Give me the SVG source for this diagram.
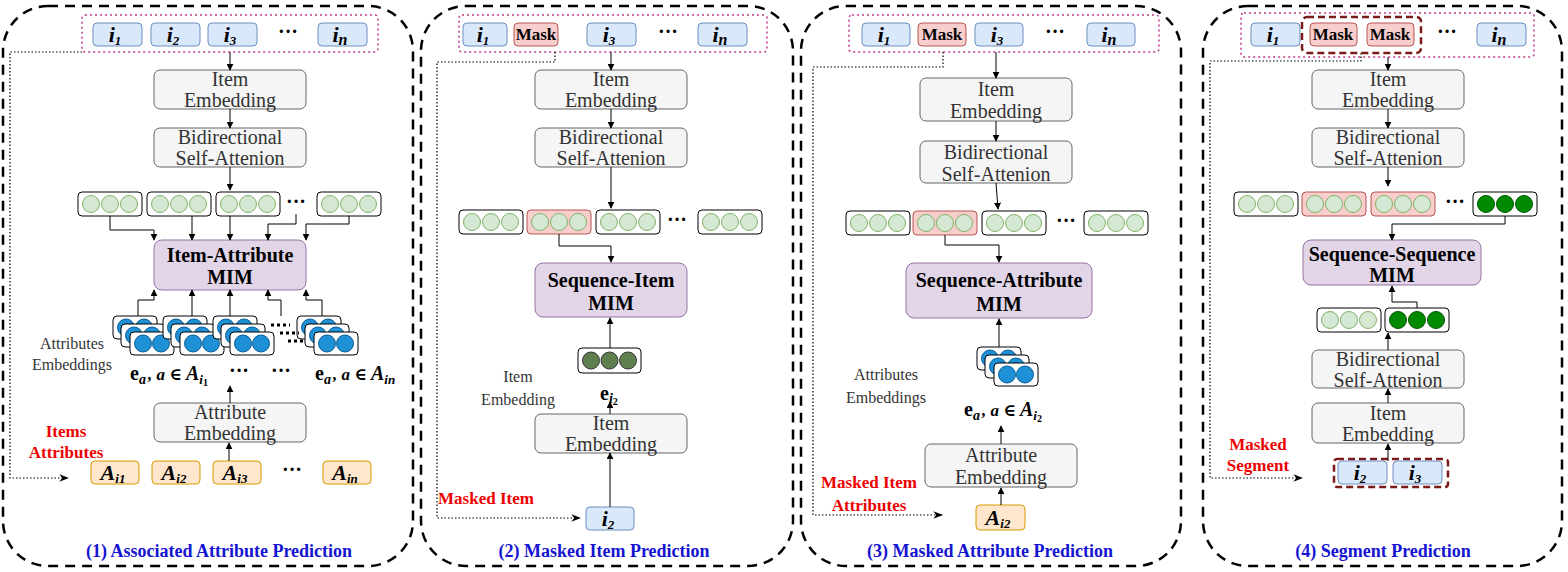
<svg xmlns="http://www.w3.org/2000/svg" width="1568" height="572" viewBox="0 0 1568 572" font-family="'Liberation Serif', 'DejaVu Serif', serif">
<style>
text, tspan{font-family:'Liberation Serif','DejaVu Serif','Times New Roman',serif}
.outer{fill:none;stroke:#000;stroke-width:2.5;stroke-dasharray:10 7}
.pink{fill:none;stroke:#c0398a;stroke-width:1.5;stroke-dasharray:2 3}
.item{fill:#dae8fc;stroke:#6c8ebf;stroke-width:1}
.mask{fill:#f8cecc;stroke:#b85450;stroke-width:1}
.attr{fill:#ffe6cc;stroke:#d79b00;stroke-width:1}
.gbox{fill:#f5f5f5;stroke:#666;stroke-width:1}
.mim{fill:#e1d5e7;stroke:#9673a6;stroke-width:1}
.it{font-weight:bold;font-style:italic;font-size:22px;text-anchor:middle}
.mt{font-weight:bold;font-size:17px;text-anchor:middle}
.bt{font-size:20px;fill:#333;text-anchor:middle}
.mimt{font-weight:bold;font-size:20px;text-anchor:middle}
.red{fill:#e00;font-weight:bold;font-size:17px;text-anchor:middle}
.lab{font-size:16px;fill:#333;text-anchor:middle}
.title{fill:#1414d2;font-weight:bold;font-size:18px;text-anchor:middle}
.ea{font-weight:bold;font-size:20px}
.ln{fill:none;stroke:#000;stroke-width:1;marker-end:url(#ar)}
.dl{fill:none;stroke:#000;stroke-width:1.2;stroke-dasharray:1.5 2;marker-end:url(#ar2)}
.dots{font-weight:bold;font-size:20px;text-anchor:middle}
.dd{stroke:#000;stroke-width:3;stroke-dasharray:3 3}
</style>
<defs>
<marker id="ar" viewBox="0 0 10 10" refX="9" refY="5" markerWidth="7" markerHeight="7" orient="auto"><path d="M0,0L10,5L0,10z"/></marker>
<marker id="ar2" viewBox="0 0 10 10" refX="9" refY="5" markerWidth="8" markerHeight="8" orient="auto"><path d="M0,1L10,5L0,9L3,5z"/></marker>
<g id="vg"><rect width="64" height="24" rx="4" fill="#fff" stroke="#000"/><circle cx="13" cy="12" r="8.5" fill="#d5e8d4" stroke="#82b366"/><circle cx="32" cy="12" r="8.5" fill="#d5e8d4" stroke="#82b366"/><circle cx="51" cy="12" r="8.5" fill="#d5e8d4" stroke="#82b366"/></g>
<g id="vr"><rect width="64" height="24" rx="4" fill="#f8cecc" stroke="#b85450"/><circle cx="13" cy="12" r="8.5" fill="#d5e8d4" stroke="#82b366"/><circle cx="32" cy="12" r="8.5" fill="#d5e8d4" stroke="#82b366"/><circle cx="51" cy="12" r="8.5" fill="#d5e8d4" stroke="#82b366"/></g>
<g id="vd"><rect width="64" height="24" rx="4" fill="#fff" stroke="#000"/><circle cx="13" cy="12" r="8.5" fill="#008a00" stroke="#005700"/><circle cx="32" cy="12" r="8.5" fill="#008a00" stroke="#005700"/><circle cx="51" cy="12" r="8.5" fill="#008a00" stroke="#005700"/></g>
<g id="vk"><rect width="63" height="25" rx="4" fill="#fff" stroke="#000"/><circle cx="13" cy="12.5" r="8.5" fill="#5f7f4f" stroke="#333"/><circle cx="31.5" cy="12.5" r="8.5" fill="#5f7f4f" stroke="#333"/><circle cx="50" cy="12.5" r="8.5" fill="#5f7f4f" stroke="#333"/></g>
<g id="ab"><rect width="44" height="23" rx="4" fill="#fff" stroke="#000"/><circle cx="13" cy="11.5" r="8.5" fill="#1e90d6" stroke="#0b5f96"/><circle cx="31" cy="11.5" r="8.5" fill="#1e90d6" stroke="#0b5f96"/></g>
<g id="st"><use href="#ab"/><use href="#ab" x="8" y="8"/><use href="#ab" x="17" y="16"/></g>
</defs>

<g id="panel1">
<rect class="outer" x="3" y="6" width="410" height="560" rx="45"/>
<rect class="pink" x="82" y="15" width="296" height="37" rx="3"/>
<rect class="item" x="93" y="23" width="49" height="23" rx="4"/><text class="it" x="115" y="42">i<tspan font-size="13" dy="3">1</tspan></text>
<rect class="item" x="151" y="23" width="49" height="23" rx="4"/><text class="it" x="173" y="42">i<tspan font-size="13" dy="3">2</tspan></text>
<rect class="item" x="208" y="23" width="49" height="23" rx="4"/><text class="it" x="230" y="42">i<tspan font-size="13" dy="3">3</tspan></text>
<text class="dots" x="288" y="38" font-size="14">···</text>
<rect class="item" x="318" y="23" width="49" height="23" rx="4"/><text class="it" x="340" y="42">i<tspan font-size="16" dy="3">n</tspan></text>
<rect class="gbox" x="154" y="70" width="152" height="39" rx="6"/><text class="bt" x="230" y="86">Item</text><text class="bt" x="230" y="107">Embedding</text>
<rect class="gbox" x="154" y="128" width="152" height="39" rx="6"/><text class="bt" x="230" y="144">Bidirectional</text><text class="bt" x="230" y="165">Self-Attenion</text>
<use href="#vg" x="78" y="192"/><use href="#vg" x="147" y="192"/><use href="#vg" x="216" y="192"/>
<text class="dots" x="296" y="208">···</text>
<use href="#vg" x="317" y="192"/>
<rect class="mim" x="154" y="240" width="152" height="50" rx="8"/><text class="mimt" x="230" y="262">Item-Attribute</text><text class="mimt" x="230" y="284">MIM</text>
<use href="#st" x="113" y="316"/><use href="#st" x="163" y="316"/><use href="#st" x="213" y="316"/><use href="#st" x="297" y="316"/>
<path class="dd" d="M271,325H290M280,333H299M288,341H306"/>
<text class="lab" x="72" y="349">Attributes</text><text class="lab" x="72" y="370">Embeddings</text>
<text class="ea" x="130" y="380">e<tspan font-style="italic" font-size="14" dy="4">a</tspan><tspan dy="-4" font-size="17" font-style="italic" dx="2">, a ∈ </tspan><tspan font-style="italic">A</tspan><tspan font-style="italic" font-size="13" dy="4">i</tspan><tspan font-size="10" dy="2">1</tspan></text>
<text class="dots" x="239" y="377">···</text><text class="dots" x="281" y="377">···</text>
<text class="ea" x="315" y="380">e<tspan font-style="italic" font-size="14" dy="4">a</tspan><tspan dy="-4" font-size="17" font-style="italic" dx="2">, a ∈ </tspan><tspan font-style="italic">A</tspan><tspan font-style="italic" font-size="13" dy="4">in</tspan></text>
<rect class="gbox" x="154" y="403" width="152" height="39" rx="6"/><text class="bt" x="230" y="419">Attribute</text><text class="bt" x="230" y="440">Embedding</text>
<text class="red" x="66" y="437">Items</text><text class="red" x="66" y="458">Attributes</text>
<rect class="attr" x="91" y="461" width="48" height="23" rx="4"/><text class="it" x="113" y="480">A<tspan font-size="13" dy="3">i1</tspan></text>
<rect class="attr" x="152" y="461" width="48" height="23" rx="4"/><text class="it" x="174" y="480">A<tspan font-size="13" dy="3">i2</tspan></text>
<rect class="attr" x="213" y="461" width="48" height="23" rx="4"/><text class="it" x="235" y="480">A<tspan font-size="13" dy="3">i3</tspan></text>
<text class="dots" x="292" y="476" font-size="14">···</text>
<rect class="attr" x="323" y="461" width="48" height="23" rx="4"/><text class="it" x="345" y="480">A<tspan font-size="13" dy="3">in</tspan></text>
<text class="title" x="219" y="557">(1) Associated Attribute Prediction</text>
</g>

<g id="panel2">
<rect class="outer" x="421" y="6" width="372" height="560" rx="45"/>
<rect class="pink" x="459" y="15" width="308" height="37" rx="3"/>
<rect class="item" x="463" y="23" width="44" height="23" rx="4"/><text class="it" x="483" y="42">i<tspan font-size="13" dy="3">1</tspan></text>
<rect class="mask" x="514" y="23" width="44" height="23" rx="4"/><text class="mt" x="536" y="40">Mask</text>
<rect class="item" x="587" y="23" width="49" height="23" rx="4"/><text class="it" x="609" y="42">i<tspan font-size="13" dy="3">3</tspan></text>
<text class="dots" x="668" y="38" font-size="14">···</text>
<rect class="item" x="698" y="23" width="49" height="23" rx="4"/><text class="it" x="720" y="42">i<tspan font-size="16" dy="3">n</tspan></text>
<rect class="gbox" x="535" y="70" width="152" height="39" rx="6"/><text class="bt" x="611" y="86">Item</text><text class="bt" x="611" y="107">Embedding</text>
<rect class="gbox" x="535" y="128" width="152" height="39" rx="6"/><text class="bt" x="611" y="144">Bidirectional</text><text class="bt" x="611" y="165">Self-Attenion</text>
<use href="#vg" x="459" y="210"/><use href="#vr" x="527" y="210"/><use href="#vg" x="596" y="210"/>
<text class="dots" x="677" y="226">···</text>
<use href="#vg" x="698" y="210"/>
<rect class="mim" x="535" y="263" width="152" height="54" rx="8"/><text class="mimt" x="611" y="287">Sequence-Item</text><text class="mimt" x="611" y="310">MIM</text>
<use href="#vk" x="578" y="348"/>
<text class="lab" x="518" y="382">Item</text><text class="lab" x="518" y="405">Embedding</text>
<text class="ea" x="600" y="400">e<tspan font-style="italic" font-size="14" dy="3">i</tspan><tspan font-size="10" dy="2">2</tspan></text>
<rect class="gbox" x="535" y="414" width="152" height="39" rx="6"/><text class="bt" x="611" y="430">Item</text><text class="bt" x="611" y="451">Embedding</text>
<text class="red" x="486" y="504">Masked Item</text>
<rect class="item" x="586" y="507" width="48" height="23" rx="4"/><text class="it" x="608" y="526">i<tspan font-size="13" dy="3">2</tspan></text>
<text class="title" x="604" y="557">(2) Masked Item Prediction</text>
</g>

<g id="panel3">
<rect class="outer" x="801" y="6" width="380" height="560" rx="45"/>
<rect class="pink" x="849" y="15" width="310" height="37" rx="3"/>
<rect class="item" x="862" y="23" width="48" height="23" rx="4"/><text class="it" x="884" y="42">i<tspan font-size="13" dy="3">1</tspan></text>
<rect class="mask" x="918" y="23" width="48" height="23" rx="4"/><text class="mt" x="942" y="40">Mask</text>
<rect class="item" x="975" y="23" width="48" height="23" rx="4"/><text class="it" x="997" y="42">i<tspan font-size="13" dy="3">3</tspan></text>
<text class="dots" x="1055" y="38" font-size="14">···</text>
<rect class="item" x="1087" y="23" width="48" height="23" rx="4"/><text class="it" x="1109" y="42">i<tspan font-size="16" dy="3">n</tspan></text>
<rect class="gbox" x="920" y="78" width="152" height="43" rx="6"/><text class="bt" x="996" y="96">Item</text><text class="bt" x="996" y="118">Embedding</text>
<rect class="gbox" x="920" y="141" width="152" height="42" rx="6"/><text class="bt" x="996" y="159">Bidirectional</text><text class="bt" x="996" y="181">Self-Attenion</text>
<use href="#vg" x="846" y="211"/><use href="#vr" x="913" y="211"/><use href="#vg" x="982" y="211"/>
<text class="dots" x="1066" y="227">···</text>
<use href="#vg" x="1084" y="211"/>
<rect class="mim" x="906" y="263" width="186" height="55" rx="8"/><text class="mimt" x="999" y="287">Sequence-Attribute</text><text class="mimt" x="999" y="311">MIM</text>
<use href="#st" x="977" y="347"/>
<text class="lab" x="886" y="380">Attributes</text><text class="lab" x="886" y="403">Embeddings</text>
<text class="ea" x="964" y="416">e<tspan font-style="italic" font-size="14" dy="4">a</tspan><tspan dy="-4" font-size="17" font-style="italic" dx="2">, a ∈ </tspan><tspan font-style="italic">A</tspan><tspan font-style="italic" font-size="13" dy="4">i</tspan><tspan font-size="10" dy="2">2</tspan></text>
<rect class="gbox" x="925" y="444" width="152" height="43" rx="6"/><text class="bt" x="1001" y="462">Attribute</text><text class="bt" x="1001" y="484">Embedding</text>
<text class="red" x="869" y="488">Masked Item</text><text class="red" x="869" y="511">Attributes</text>
<rect class="attr" x="976" y="505" width="49" height="25" rx="4"/><text class="it" x="998" y="525">A<tspan font-size="13" dy="3">i2</tspan></text>
<text class="title" x="990" y="557">(3) Masked Attribute Prediction</text>
</g>

<g id="panel4">
<rect class="outer" x="1203" y="6" width="359" height="560" rx="45"/>
<rect class="pink" x="1241" y="13" width="293" height="44" rx="3"/>
<rect x="1302" y="17" width="119" height="36" rx="5" fill="none" stroke="#7b1a1a" stroke-width="2.5" stroke-dasharray="7 4"/>
<rect class="item" x="1251" y="23" width="49" height="23" rx="4"/><text class="it" x="1273" y="42">i<tspan font-size="13" dy="3">1</tspan></text>
<rect class="mask" x="1310" y="23" width="47" height="23" rx="4"/><text class="mt" x="1333" y="40">Mask</text>
<rect class="mask" x="1367" y="23" width="47" height="23" rx="4"/><text class="mt" x="1390" y="40">Mask</text>
<text class="dots" x="1447" y="38" font-size="14">···</text>
<rect class="item" x="1477" y="23" width="49" height="23" rx="4"/><text class="it" x="1499" y="42">i<tspan font-size="16" dy="3">n</tspan></text>
<rect class="gbox" x="1312" y="70" width="152" height="39" rx="6"/><text class="bt" x="1388" y="86">Item</text><text class="bt" x="1388" y="107">Embedding</text>
<rect class="gbox" x="1312" y="128" width="152" height="39" rx="6"/><text class="bt" x="1388" y="144">Bidirectional</text><text class="bt" x="1388" y="165">Self-Attenion</text>
<use href="#vg" x="1234" y="192"/><use href="#vr" x="1302" y="192"/><use href="#vr" x="1371" y="192"/>
<text class="dots" x="1455" y="208">···</text>
<use href="#vd" x="1473" y="192"/>
<rect class="mim" x="1303" y="240" width="178" height="45" rx="8"/><text class="mimt" x="1392" y="261">Sequence-Sequence</text><text class="mimt" x="1392" y="282">MIM</text>
<use href="#vg" x="1317" y="308"/><use href="#vd" x="1385" y="308"/>
<rect class="gbox" x="1312" y="350" width="152" height="38" rx="6"/><text class="bt" x="1388" y="366">Bidirectional</text><text class="bt" x="1388" y="387">Self-Attenion</text>
<rect class="gbox" x="1312" y="403" width="152" height="40" rx="6"/><text class="bt" x="1388" y="420">Item</text><text class="bt" x="1388" y="441">Embedding</text>
<text class="red" x="1258" y="450">Masked</text><text class="red" x="1258" y="471">Segment</text>
<rect x="1334" y="459" width="114" height="28" rx="3" fill="none" stroke="#7b1a1a" stroke-width="2.5" stroke-dasharray="7 4"/>
<rect class="item" x="1338" y="461" width="49" height="23" rx="4"/><text class="it" x="1360" y="480">i<tspan font-size="13" dy="3">2</tspan></text>
<rect class="item" x="1393" y="461" width="49" height="23" rx="4"/><text class="it" x="1415" y="480">i<tspan font-size="13" dy="3">3</tspan></text>
<text class="title" x="1383" y="557">(4) Segment Prediction</text>
</g>

<g id="connectors">
<path class="ln" d="M230,52V70"/><path class="ln" d="M230,109V128"/><path class="ln" d="M230,167V190"/>
<path class="ln" d="M110,216V230H154V240"/><path class="ln" d="M192,216V240"/><path class="ln" d="M230,216V240"/>
<path class="ln" d="M296,214V224H268V240"/><path class="ln" d="M349,216V224H306V240"/>
<path class="ln" d="M138,316V300H154V290"/><path class="ln" d="M192,316V290"/><path class="ln" d="M230,316V290"/>
<path class="ln" d="M281,316V300H268V290"/><path class="ln" d="M322,316V300H306V290"/>
<path class="ln" d="M230,403V386"/><path class="ln" d="M229,461V443"/>
<path class="dl" d="M82,52H10V478H68"/>
<path class="ln" d="M611,52V70"/><path class="ln" d="M611,109V128"/><path class="ln" d="M611,167V208"/>
<path class="ln" d="M559,234V246H611V262"/>
<path class="ln" d="M610,348V318"/><path class="ln" d="M610,414V402"/><path class="ln" d="M610,507V453"/>
<path class="dl" d="M555,52V62H437V518H580"/>
<path class="ln" d="M996,52V78"/><path class="ln" d="M996,121V141"/><path class="ln" d="M996,183L998,209"/>
<path class="ln" d="M945,235V245H999V262"/>
<path class="ln" d="M999,347V319"/><path class="ln" d="M1001,444V426"/><path class="ln" d="M1001,505V488"/>
<path class="dl" d="M943,52V67H813V515H942"/>
<path class="ln" d="M1388,57V70"/><path class="ln" d="M1388,109V128"/><path class="ln" d="M1388,167V186"/>
<path class="ln" d="M1505,216V224H1392V240"/>
<path class="ln" d="M1417,308V302H1392V286"/><path class="ln" d="M1388,350V333"/><path class="ln" d="M1388,403V389"/><path class="ln" d="M1388,461V444"/>
<path class="dl" d="M1361,53V61H1210V478H1302"/>
</g>
</svg>
